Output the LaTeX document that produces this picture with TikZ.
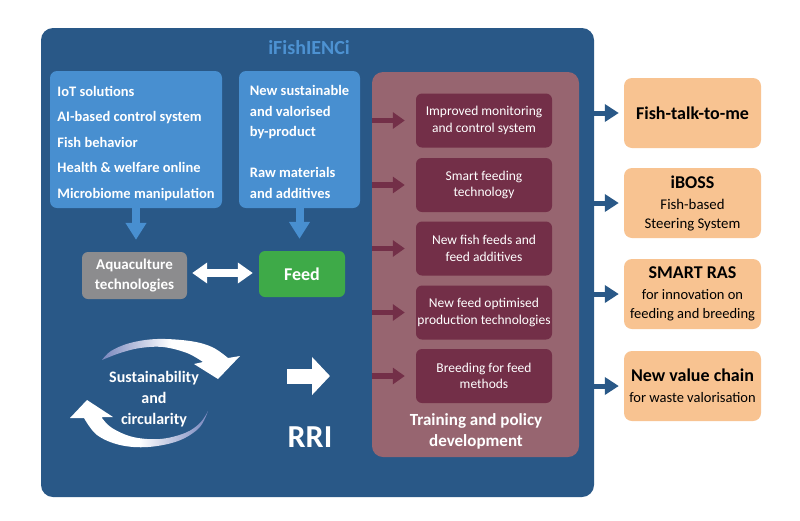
\documentclass[tikz,border=0pt]{standalone}
\usepackage{fontspec}
\setmainfont{Carlito}
\usetikzlibrary{arrows.meta,calc}
\definecolor{mainblue}{RGB}{41,88,135}
\definecolor{titleblue}{RGB}{77,146,210}
\definecolor{lightblue}{RGB}{72,143,208}
\definecolor{pinkbg}{RGB}{151,101,112}
\definecolor{maroonc}{RGB}{115,47,72}
\definecolor{grayc}{RGB}{140,140,142}
\definecolor{greenc}{RGB}{62,170,72}
\definecolor{orangec}{RGB}{248,195,145}
\definecolor{fadeblue}{RGB}{120,135,190}
\newcommand{\fsz}[2]{\fontsize{#1}{#2}\selectfont}
\tikzset{
  mainbox/.style={fill=mainblue, rounded corners=12pt, inner sep=0pt},
  lbbox/.style={fill=lightblue, rounded corners=7pt, inner sep=0pt},
  lbtext/.style={text=white, align=left, font=\bfseries\fsz{14.5}{25.5}, inner sep=0pt},
  pinkbox/.style={fill=pinkbg, rounded corners=11pt, inner sep=0pt},
  mbox/.style={fill=maroonc, rounded corners=6pt, text=white, align=center, font=\fsz{13.5}{16.5}, minimum width=136pt, minimum height=54pt, inner sep=0pt},
  obox/.style={fill=orangec, rounded corners=8pt, text=black, align=center, font=\fsz{14.8}{19}, minimum width=137pt, minimum height=70pt, inner sep=0pt},
  bluearr/.style={draw=lightblue, line width=8pt, -{Triangle[width=20pt,length=17pt]}, shorten >=12pt},
  whitearr/.style={draw=white, line width=8pt, {Triangle[width=20pt,length=15pt]}-{Triangle[width=20pt,length=15pt]}, shorten >=6pt, shorten <=5pt},
  marr/.style={draw=maroonc, line width=5.5pt, -{Triangle[width=16pt,length=12pt]}, shorten >=11pt},
  rarr/.style={draw=mainblue, line width=5pt, -{Triangle[width=17pt,length=14pt]}, shorten >=5pt},
}
\begin{document}
\begin{tikzpicture}[x=1pt,y=-1pt]
\useasboundingbox (0,0) rectangle (800,520);
\fill[white] (0,0) rectangle (800,520);

\node[mainbox, minimum width=553pt, minimum height=469pt] (main) at (317.5,262.5) {};
\node[text=titleblue, font=\bfseries\fsz{20}{24}] (title) at (309,48) {iFishIENCi};

\node[lbbox, minimum width=172pt, minimum height=137pt] (lbox) at (136,139.5) {};
\node[lbtext] (lboxtext) at (136,143.5)
  {IoT solutions\\AI-based control system\\Fish behavior\\Health \& welfare online\\Microbiome manipulation};
\node[lbbox, minimum width=121pt, minimum height=137pt] (mbx) at (299.5,139.5) {};
\node[lbtext, font=\bfseries\fsz{14.5}{20.6}] (mbxtext) at (299.5,142)
  {New sustainable\\and valorised\\by-product\\[20.6pt]Raw materials\\and additives};

\node[fill=grayc, rounded corners=6pt, text=white, align=center, font=\bfseries\fsz{15}{20},
      minimum width=105pt, minimum height=47pt, inner sep=0pt] (gray) at (134.5,275.5) {Aquaculture\\technologies};
\node[fill=greenc, rounded corners=6pt, text=white, font=\bfseries\fsz{18}{21},
      minimum width=86pt, minimum height=46pt, inner sep=0pt] (feed) at (302,274) {Feed};

\draw[bluearr] (lbox.south) -- (lbox.south |- gray.north);
\draw[bluearr] (mbx.south) -- (mbx.south |- feed.north);
\draw[whitearr] (gray.east |- 0,273) -- (feed.west |- 0,273);

% pink panel
\node[pinkbox, minimum width=207pt, minimum height=385pt] (pink) at (475.5,264.5) {};
\node[mbox] (m1) at (484,120.5) {Improved monitoring\\and control system};
\node[mbox] (m2) at (484,185) {Smart feeding\\technology};
\node[mbox] (m3) at (484,248.5) {New fish feeds and\\feed additives};
\node[mbox] (m4) at (484,312.5) {New feed optimised\\production technologies};
\node[mbox] (m5) at (484,376) {Breeding for feed\\methods};
\foreach \m in {m1,m2,m3,m4,m5}{
  \draw[marr] (pink.west |- \m.west) -- (\m.west);
}
\node[text=white, align=center, font=\bfseries\fsz{17}{21.5}] (train) at (476,431.5) {Training and policy\\development};

% RRI and circular arrows
\node[text=white, font=\bfseries\fsz{32}{34}] (rri) at (310,437) {RRI};
\coordinate (ra1) at (287,376);
\coordinate (ra2) at (330,376);
\draw[draw=white, line width=15pt, -{Triangle[width=37pt,length=18pt]}] (ra1) -- (ra2);

\shade[left color=fadeblue, right color=white, middle color=white]
  plot[smooth, tension=0.6] coordinates {(102,360) (111,351) (130,343) (157,339) (190,341) (212,347) (228,358)}
  -- (240,356) -- (218,379) -- (194,364)
  -- plot[smooth, tension=0.6] coordinates {(203,362) (187,353) (163,347) (140,348) (120,353) (102,360)} -- cycle;
\shade[left color=white, right color=fadeblue, middle color=white]
  (87,400) -- (113,417) -- (102,417)
  -- plot[smooth, tension=0.6] coordinates {(102,418) (112,428) (133,437) (160,439) (185,433) (200,423) (208,411)}
  -- plot[smooth, tension=0.6] coordinates {(208,411) (199,428) (178,441) (148,447) (120,445) (97,435) (84,418)}
  -- (70,418) -- cycle;
\node[text=white, align=center, font=\bfseries\fsz{16}{21}] (sust) at (154,399) {Sustainability\\and\\circularity};

% outcomes
\node[obox] (o1) at (692.5,113) {\bfseries\fsz{18}{21}Fish-talk-to-me};
\node[obox] (o2) at (692.5,203) {{\bfseries\fsz{18}{21}iBOSS}\\[2pt]Fish-based\\Steering System};
\node[obox, font=\fsz{14.5}{19.5}] (o3) at (692.5,294) {{\bfseries\fsz{18}{21}SMART RAS}\\[1pt]for innovation on\\feeding and breeding};
\node[obox, font=\fsz{14.5}{21}] (o4) at (692.5,386) {{\bfseries\fsz{18}{21}New value chain}\\for waste valorisation};
\foreach \o in {o1,o2,o3,o4}{
  \draw[rarr] (main.east |- \o.west) -- (\o.west);
}
\end{tikzpicture}
\end{document}
